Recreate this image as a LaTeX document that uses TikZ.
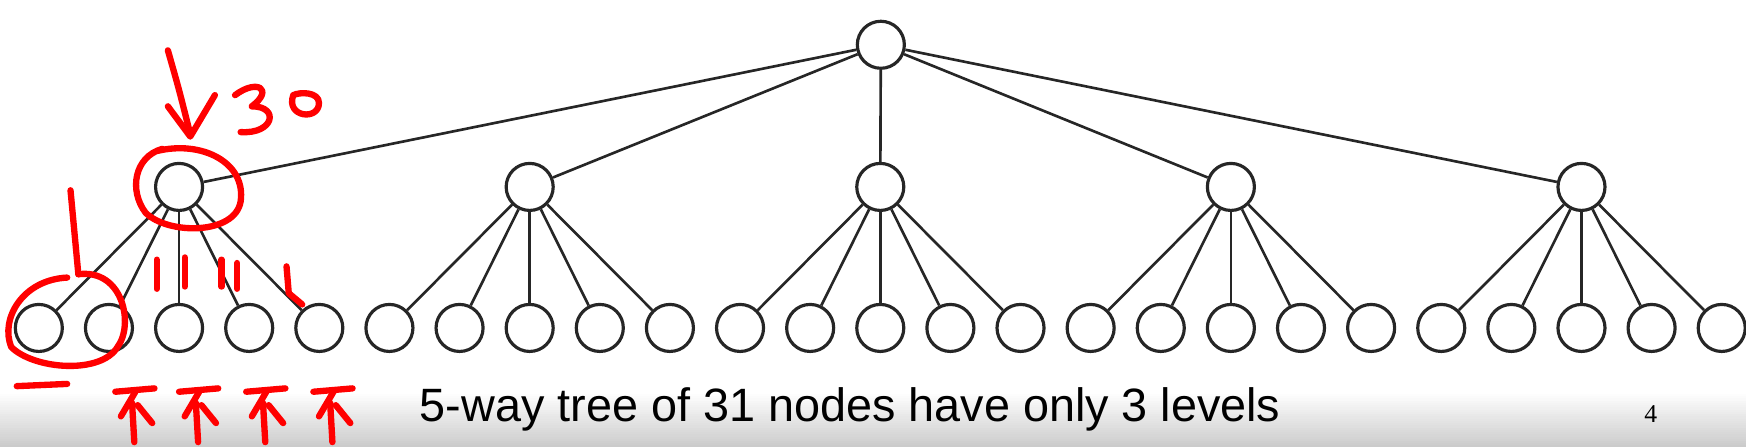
\documentclass[tikz,border=0pt]{standalone}
\usepackage{fontspec}
\setmainfont{Liberation Sans}
\newfontfamily\serifpn{Liberation Serif}
\begin{document}
\begin{tikzpicture}[x=0.01119cm,y=-0.01119cm,
  tn/.style={circle,draw=black!85,line width=0.9pt,minimum size=0.47cm,inner sep=0pt,fill=white},
  ed/.style={line width=0.75pt,draw=black!85},
  ink/.style={red,line width=1.8pt,line cap=round,line join=round}]
\useasboundingbox (0,0) rectangle (1560,398.5);
\foreach \k in {0,...,24}{
  \pgfmathsetmacro\sh{\k*0.85}
  \fill[black!\sh] (0,350+2*\k) rectangle (1560,352.5+2*\k);
}
\node[tn] (r) at (787,40) {};
\foreach \i in {0,...,4}{
  \pgfmathsetmacro\cx{160+313.25*\i}
  \node[tn] (c\i) at (\cx,167) {};
  \draw[ed] (r) -- (c\i);
  \foreach \j in {0,...,4}{
    \pgfmathsetmacro\lx{\cx+62.65*(\j-2)}
    \node[tn] (l\i\j) at (\lx,293) {};
    \draw[ed] (c\i) -- (l\i\j);
  }
}
\node[anchor=west,font=\fontsize{13.3}{15}\selectfont] (cap) at (364,366) {5-way tree of 31 nodes have only 3 levels};
\node[font=\serifpn\fontsize{7.3}{9}\selectfont] (pn) at (1475,370) {4};
% red annotations
\draw[ink] (150,45) .. controls (160,80) .. (170,120);
\draw[ink] (150,95) -- (170,122) -- (192,85);
\draw[ink] (210,85) .. controls (230,70) and (245,80) .. (225,95) .. controls (250,95) and (245,120) .. (215,118);
\draw[ink] (262,85) .. controls (255,105) and (285,108) .. (285,92) .. controls (285,82) and (268,82) .. (262,85);
\draw[ink] (140,135) .. controls (180,125) and (220,145) .. (215,180) .. controls (210,210) and (150,210) .. (130,190) .. controls (115,170) and (120,140) .. (145,133);
\draw[ink] (63,170) -- (70,245);
\draw[ink] (70,245) .. controls (110,240) and (120,290) .. (105,310) .. controls (90,335) and (30,330) .. (10,310) .. controls (0,285) and (20,250) .. (60,248);
\draw[ink] (140,232) -- (140,258);
\draw[ink] (165,230) -- (165,256);
\draw[ink] (198,232) -- (198,256);
\draw[ink] (212,235) -- (212,258);
\draw[ink] (256,238) -- (258,262) -- (270,272);
\draw[ink] (15,345) -- (60,343);
\foreach \x in {118,175,235,295}{
  \draw[ink] (\x-15,350) -- (\x+20,347);
  \draw[ink] (\x+3,350) -- (\x-10,372);
  \draw[ink] (\x,360) -- (\x+2,395);
  \draw[ink] (\x+5,362) -- (\x+18,378);
}
\end{tikzpicture}
\end{document}
